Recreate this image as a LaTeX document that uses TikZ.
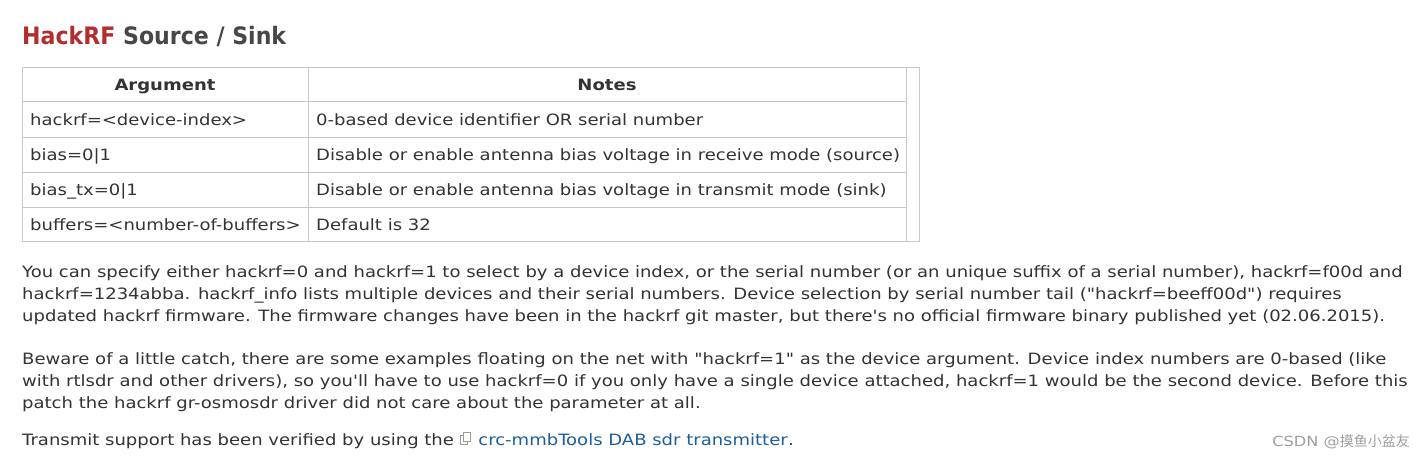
\documentclass[tikz,border=0pt]{standalone}
\usepackage{fontspec}
\setmainfont{DejaVu Sans}[FakeStretch=1.155,Ligatures=TeXOff]
\newfontfamily\ttlfont{DejaVu Sans}[FakeStretch=0.92]
\newfontfamily\cjk{Noto Sans CJK SC}
\definecolor{txt}{HTML}{333333}
\definecolor{ttl}{HTML}{B22D2D}
\definecolor{lnk}{HTML}{1C5E9A}
\definecolor{grid}{HTML}{C8C8C8}
\newcommand{\dq}{\symbol{34}}
\newcommand{\ap}{\symbol{39}}
\begin{document}
\begin{tikzpicture}[x=1pt,y=-1pt,
  body/.style={anchor=base west,inner sep=0pt,text=txt,font=\fontsize{15.6}{18}\selectfont},
  cell/.style={body},
  head/.style={anchor=base,inner sep=0pt,text=txt,font=\fontsize{15.6}{18}\selectfont\bfseries}]
\useasboundingbox[fill=white] (0,0) rectangle (1427,461);
\node[anchor=base west,inner sep=0pt,font=\fontsize{24}{28}\selectfont\ttlfont\bfseries] (title) at (22,44) {\textcolor{ttl}{HackRF} \textcolor{txt!90}{Source / Sink}};
% table grid
\draw[grid,line width=1pt] (22,67) rectangle (919,241);
\foreach \y in {101,137,172,207} \draw[grid,line width=1pt] (22,\y) -- (906,\y);
\draw[grid,line width=1pt] (308,67) -- (308,241);
\draw[grid,line width=1pt] (906,67) -- (906,241);
\node[head] (h1) at (165,90) {Argument};
\node[head] (h2) at (607,90) {Notes};
\node[cell] (a1) at (30,125) {hackrf=<device-index>};
\node[cell] (b1) at (316,125) {0-based device identifier OR serial number};
\node[cell] (a2) at (30,160) {bias=0|1};
\node[cell] (b2) at (316,160) {Disable or enable antenna bias voltage in receive mode (source)};
\node[cell] (a3) at (30,195) {bias\_tx=0|1};
\node[cell] (b3) at (316,195) {Disable or enable antenna bias voltage in transmit mode (sink)};
\node[cell] (a4) at (30,230) {buffers=<number-of-buffers>};
\node[cell] (b4) at (316,230) {Default is 32};
% paragraphs
\node[body] (p1) at (22,277) {You can specify either hackrf=0 and hackrf=1 to select by a device index, or the serial number (or an unique suffix of a serial number), hackrf=f00d and};
\node[body] (p2) at (22,299) {hackrf=1234abba. hackrf\_info lists multiple devices and their serial numbers. Device selection by serial number tail (\dq hackrf=beeff00d\dq) requires};
\node[body] (p3) at (22,321) {updated hackrf firmware. The firmware changes have been in the hackrf git master, but there\ap s no official firmware binary published yet (02.06.2015).};
\node[body] (q1) at (22,364) {Beware of a little catch, there are some examples floating on the net with \dq hackrf=1\dq{} as the device argument. Device index numbers are 0-based (like};
\node[body] (q2) at (22,386) {with rtlsdr and other drivers), so you\ap ll have to use hackrf=0 if you only have a single device attached, hackrf=1 would be the second device. Before this};
\node[body] (q3) at (22,408) {patch the hackrf gr-osmosdr driver did not care about the parameter at all.};
\node[body] (r1) at (22,445) {Transmit support has been verified by using the};
\coordinate (ic) at ([xshift=6pt]r1.base east);
\draw[gray!80,line width=0.8pt] ([yshift=10pt]ic) rectangle ++(7,9);
\draw[gray!80,line width=0.8pt,fill=white] ([xshift=3pt,yshift=13pt]ic) rectangle ++(7,9);
\node[body,text=lnk] (link) at ([xshift=18pt]ic) {crc-mmbTools DAB sdr transmitter};
\node[body] (dot) at (link.base east) {.};
\node[anchor=base east,inner sep=0pt,text=gray!75,font=\fontsize{14}{16}\selectfont] (wm) at (1410,446) {CSDN @{\cjk 摸鱼小盆友}};
\end{tikzpicture}
\end{document}
